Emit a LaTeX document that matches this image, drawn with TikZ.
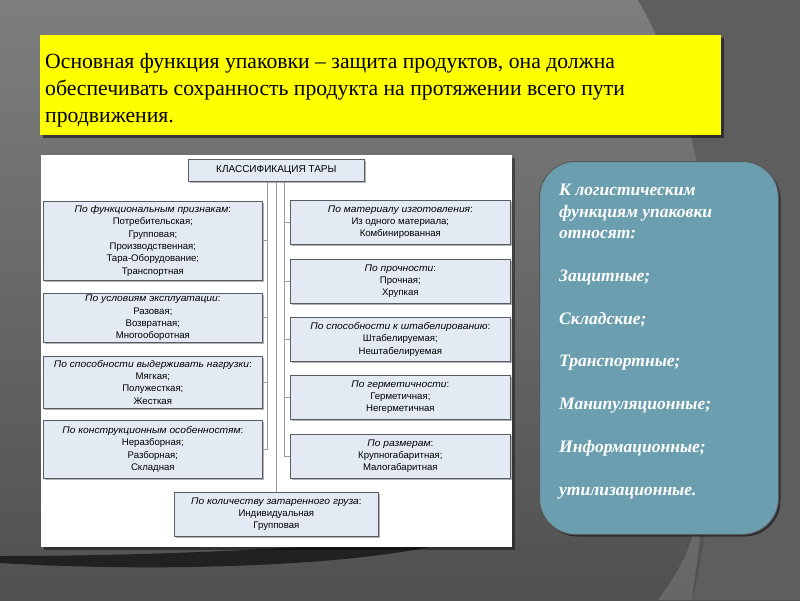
\documentclass[tikz,border=0pt]{standalone}
\usepackage{fontspec}
\setmainfont{Liberation Serif}
\setsansfont{Liberation Sans}
\newfontfamily\kcapfont[FakeStretch=1.07]{Liberation Sans}
\newcommand{\kcap}[1]{{\kcapfont\itshape #1}}
\usepackage{tikz}
\usetikzlibrary{positioning,shadows,calc}
\definecolor{tbyellow}{RGB}{255,255,0}
\definecolor{tbbox}{RGB}{228,234,243}
\definecolor{tbedge}{RGB}{88,92,100}
\definecolor{tbline}{RGB}{150,156,164}
\definecolor{tbteal}{RGB}{107,158,174}
\definecolor{tbgray}{RGB}{110,110,110}
\definecolor{tbdark}{RGB}{94,94,94}
\definecolor{tblight}{RGB}{126,126,126}

\begin{document}
\begin{tikzpicture}[x=1pt,y=-1pt,
  kbox/.style={draw=tbedge,fill=tbbox,line width=0.7pt,align=center,inner sep=0pt,anchor=north west,
    font=\sffamily\fontsize{9.6}{12.3}\selectfont,
    drop shadow={shadow xshift=1.2pt,shadow yshift=-1.2pt,fill=black,opacity=.3}},
  kline/.style={draw=tbline,line width=0.8pt}]
  \useasboundingbox (0,0) rectangle (800,600);
  % Background
  \fill[top color=tblight,bottom color=tbdark!85!black] (0,0) rectangle (800,600);
  \fill[tbdark] (638,0) -- (800,0) -- (800,600) -- (692,600) .. controls (740,400) and (720,140) .. cycle;
  \fill[tblight,opacity=.5] (658,600) .. controls (680,570) and (690,550) .. (697,520) -- (700,535) .. controls (698,560) and (694,580) .. (692,600) -- cycle;
  \fill[black,opacity=.6] (0,556) -- (0,563) .. controls (150,572) and (330,567) .. (430,547) -- (300,547) .. controls (200,553) and (100,556) .. cycle;
  % Headline
  \node[draw=none,fill=tbyellow,anchor=north west,minimum width=681pt,minimum height=100pt,
    drop shadow={shadow xshift=3pt,shadow yshift=-3pt,fill=black,opacity=.5}] (head) at (40,35) {};
  \node[anchor=north west,inner sep=0pt,align=left,font=\fontsize{21.7}{27}\selectfont] (headtxt) at (45,53)
    {Основная функция упаковки – защита продуктов, она должна\\обеспечивать сохранность продукта на протяжении всего пути\\продвижения.};
  % Classification panel
  \fill[black,opacity=.4] (44,158) rectangle (515,550);
  \fill[white] (41,155) rectangle (512,547);
  \node[kbox,minimum width=176pt,minimum height=22pt,font=\sffamily\fontsize{10}{12}\selectfont] (title) at (188,159) {КЛАССИФИКАЦИЯ ТАРЫ};
  \node[kbox,minimum width=219pt,minimum height=79pt] (lf1) at (43,201)
    {\kcap{По функциональным признакам}:\\Потребительская;\\Групповая;\\Производственная;\\Тара-Оборудование;\\Транспортная};
  \node[kbox,minimum width=219pt,minimum height=49pt] (lf2) at (43,293)
    {\kcap{По условиям эксплуатации}:\\Разовая;\\Возвратная;\\Многооборотная};
  \node[kbox,minimum width=219pt,minimum height=52pt] (lf3) at (43,356)
    {\kcap{По способности выдерживать нагрузки}:\\Мягкая;\\Полужесткая;\\Жесткая};
  \node[kbox,minimum width=219pt,minimum height=58pt] (lf4) at (43,420)
    {\kcap{По конструкционным особенностям}:\\Неразборная;\\Разборная;\\Складная};
  \node[kbox,minimum width=220pt,minimum height=44pt] (rt1) at (290,200)
    {\kcap{По материалу изготовления}:\\Из одного материала;\\Комбинированная};
  \node[kbox,minimum width=220pt,minimum height=44pt] (rt2) at (290,259)
    {\kcap{По прочности}:\\Прочная;\\Хрупкая};
  \node[kbox,minimum width=220pt,minimum height=44pt] (rt3) at (290,317)
    {\kcap{По способности к штабелированию}:\\Штабелируемая;\\Нештабелируемая};
  \node[kbox,minimum width=220pt,minimum height=44pt] (rt4) at (290,375)
    {\kcap{По герметичности}:\\Герметичная;\\Негерметичная};
  \node[kbox,minimum width=220pt,minimum height=44pt] (rt5) at (290,434)
    {\kcap{По размерам}:\\Крупногабаритная;\\Малогабаритная};
  \node[kbox,minimum width=204pt,minimum height=44pt] (bt) at (174,492)
    {\kcap{По количеству затаренного груза}:\\Индивидуальная\\Групповая};
  % Connectors
  \coordinate (lt) at ([xshift=-9pt]title.south);
  \coordinate (rtr) at ([xshift=8pt]title.south);
  \draw[kline] (lt) |- (lf4.east);
  \foreach \n in {lf1,lf2,lf3}
    \draw[kline] (\n.east) -- (\n.east -| lt);
  \draw[kline] (rtr) |- (rt5.west);
  \foreach \n in {rt1,rt2,rt3,rt4}
    \draw[kline] (\n.west) -- (\n.west -| rtr);
  \draw[kline] (title.south) -- (bt.north);
  % Logistic functions
  \node[draw=black!65,line width=1pt,fill=tbteal,rounded corners=36pt,anchor=north west,
    minimum width=239pt,minimum height=373pt,
    drop shadow={shadow xshift=2pt,shadow yshift=-2pt,fill=black,opacity=.5}] (func) at (539,161) {};
  \node[anchor=north west,align=left,inner sep=0pt,text=white,
    font=\fontsize{17.5}{21.4}\selectfont\bfseries\itshape] (funcs) at (559,184)
    {К логистическим\\функциям упаковки\\относят:\\[21.4pt]Защитные;\\[21.4pt]Складские;\\[21.4pt]Транспортные;\\[21.4pt]Манипуляционные;\\[21.4pt]Информационные;\\[21.4pt]утилизационные.};
\end{tikzpicture}
\end{document}
